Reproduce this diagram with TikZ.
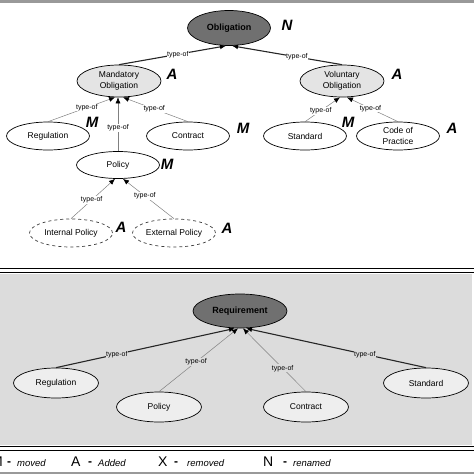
\documentclass[tikz,border=0pt]{standalone}
\usepackage{fontspec}
\setmainfont{Liberation Sans}
\usetikzlibrary{shapes.geometric,arrows.meta}
\definecolor{panelgray}{HTML}{DCDCDC}
\definecolor{rootgray}{HTML}{707070}
\definecolor{softgray}{HTML}{E4E4E4}
\definecolor{palegray}{HTML}{EEEEEE}
\begin{document}
\begin{tikzpicture}[x=1pt, y=-1pt,
    concept/.style={ellipse, draw, line width=0.7pt, inner sep=0pt, fill=white,
      minimum width=83pt, minimum height=28pt, align=center,
      font=\fontsize{8.5}{10.5}\selectfont},
    rootconcept/.style={concept, fill=rootgray, minimum height=35pt,
      font=\fontsize{9}{11}\selectfont\bfseries},
    addedconcept/.style={concept, dashed, draw=black!75},
    changetag/.style={font=\fontsize{15}{15}\selectfont\bfseries\itshape},
    isa/.style={-{Latex[length=6pt,width=5pt,color=black]}, line width=0.5pt, draw=black!50},
    strongisa/.style={isa, line width=1.1pt, draw=black!85},
    rellabel/.style={fill=white, inner sep=0.6pt, font=\fontsize{7}{8}\selectfont},
    keytag/.style={anchor=base west, inner sep=0pt, font=\fontsize{14}{14}\selectfont},
    keytext/.style={anchor=base west, inner sep=0pt, font=\fontsize{9.5}{9.5}\selectfont\itshape}]
  \useasboundingbox (0,0) rectangle (474,474);
  \clip (0,0) rectangle (474,474);

  % frame
  \fill[black!40] (0,0) rectangle (474,2.5);
  \fill[panelgray] (0,274) rectangle (472,444.5);
  \draw[line width=1.2pt] (0,268.3) -- (474,268.3);
  \draw[line width=1.2pt] (0,272.3) -- (474,272.3);
  \draw[line width=1pt] (0,446) -- (474,446);
  \draw[line width=1.4pt] (0,450.6) -- (474,450.6);
  \fill[black!40] (0,471.8) rectangle (474,474);

  % old model
  \node[rootconcept] (obl) at (229,28) {Obligation};
  \node[concept, fill=softgray, minimum width=84pt, minimum height=32pt] (man) at (119,81) {Mandatory\\Obligation};
  \node[concept, fill=softgray, minimum width=84pt, minimum height=32pt] (vol) at (342,81) {Voluntary\\Obligation};
  \node[concept] (reg) at (48,136) {Regulation};
  \node[concept] (con) at (188,136) {Contract};
  \node[concept, minimum height=27pt] (pol) at (118,165) {Policy};
  \node[concept] (std) at (305,136) {Standard};
  \node[concept] (cop) at (398,136) {Code of\\Practice};
  \node[addedconcept] (int) at (71,233) {Internal Policy};
  \node[addedconcept] (ext) at (174,233) {External Policy};

  \foreach \child/\parent/\sh/\p in {man/obl/-3/0.55, vol/obl/3/0.41} {
    \draw[strongisa] (\child.north) -- node[rellabel, pos=\p] {type-of} ([xshift=\sh]\parent.south);
  }
  \foreach \child/\parent/\sh/\p in {reg/man/-4/0.58, pol/man/-1/0.43, con/man/4/0.52,
      std/vol/-2/0.45, cop/vol/5/0.54, int/pol/-3/0.47, ext/pol/5/0.57} {
    \draw[isa] (\child.north) -- node[rellabel, pos=\p] {type-of} ([xshift=\sh]\parent.south);
  }

  % change tags
  \foreach \x/\y/\tag in {287/25/N, 172/74/A, 397/74/A, 92/122/M, 243/128/M, 167/164/M,
      348/122/M, 452/128/A, 121/227/A, 227/228/A} {
    \node[changetag] at (\x,\y) {\tag};
  }

  % new model
  \node[rootconcept, minimum width=94pt, minimum height=34pt] (req) at (240,311) {Requirement};
  \node[concept, fill=palegray, minimum width=85pt, minimum height=30pt] (reg2) at (56,383) {Regulation};
  \node[concept, fill=palegray, minimum width=85pt, minimum height=30pt] (pol2) at (159,407) {Policy};
  \node[concept, fill=palegray, minimum width=85pt, minimum height=30pt] (con2) at (306,407) {Contract};
  \node[concept, fill=palegray, minimum width=85pt, minimum height=30pt] (std2) at (426,383) {Standard};

  \foreach \child/\sh/\p in {reg2/-5/0.34, std2/6/0.34} {
    \draw[strongisa] (\child.north) -- node[rellabel, fill=panelgray, pos=\p] {type-of} ([xshift=\sh]req.south);
  }
  \foreach \child/\sh/\p in {pol2/-2/0.47, con2/3/0.37} {
    \draw[isa] (\child.north) -- node[rellabel, fill=panelgray, pos=\p] {type-of} ([xshift=\sh]req.south);
  }

  % key
  \foreach \x/\tag in {-9/M, 71/A, 158/X, 263/N} {
    \node[keytag] at (\x,466) {\tag};
  }
  \foreach \x/\word in {17/moved, 98/Added, 187/removed, 293/renamed} {
    \node[keytext] at (\x,466) {\word};
  }
  \foreach \x in {7, 88, 174, 283} {
    \node[keytag, font=\fontsize{12}{12}\selectfont\bfseries] at (\x,465) {-};
  }
\end{tikzpicture}
\end{document}
